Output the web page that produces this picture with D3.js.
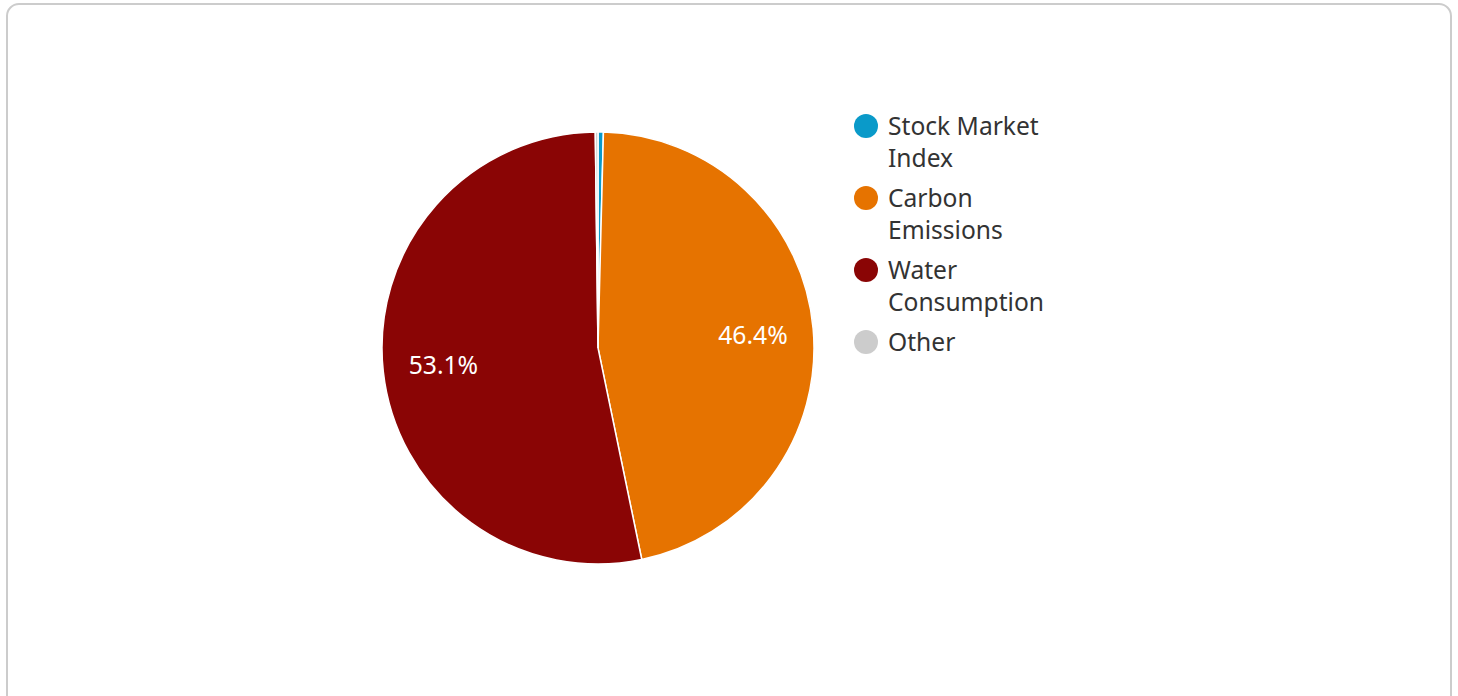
<!DOCTYPE html>
<html>
<head>
<meta charset="utf-8">
<script src="https://cdn.jsdelivr.net/npm/d3@7"></script>
<style>
  html, body { margin: 0; padding: 0; background: #fff; }
  #chart { width: 1458px; height: 696px; }
</style>
</head>
<body>
<div id="chart"></div>
<script>
// Slice data (percent of total), drawn clockwise from 12 o'clock
const categories = ["Stock Market Index", "Carbon Emissions", "Water Consumption", "Other"];
const legendLines = [["Stock Market", "Index"], ["Carbon", "Emissions"], ["Water", "Consumption"], ["Other"]];
const shares = [0.4, 46.4, 53.1, 0.2];
const colors = ["#0a9ac9", "#e67300", "#8a0505", "#cccccc"];

const W = 1458, H = 696;
const cx = 598, cy = 348, R = 216;
const FONT = "'Noto Sans', 'Open Sans', sans-serif";

const svg = d3.select("#chart").append("svg")
  .attr("width", W).attr("height", H)
  .style("font-family", FONT);

/* card border */
svg.append("rect")
  .attr("x", 7).attr("y", 4).attr("width", 1444).attr("height", 720)
  .attr("rx", 12).attr("ry", 12)
  .attr("fill", "#fff").attr("stroke", "#cccccc").attr("stroke-width", 2);

const data = categories.map((c, i) => ({ name: c, value: shares[i], color: colors[i] }));

const pie = d3.pie().value(d => d.value).sort(null);
const arc = d3.arc().innerRadius(0).outerRadius(R);
const labelArc = d3.arc().innerRadius(R * 0.72).outerRadius(R * 0.72);

const g = svg.append("g").attr("transform", `translate(${cx},${cy})`);
const arcs = pie(data);

g.selectAll("path").data(arcs).enter().append("path")
  .attr("d", arc)
  .attr("fill", d => d.data.color)
  .attr("stroke", "#fff").attr("stroke-width", 1.5);

/* percent labels only on the big slices */
g.selectAll("text.pct").data(arcs.filter(d => d.data.value > 5)).enter().append("text")
  .attr("class", "pct")
  .attr("transform", d => `translate(${labelArc.centroid(d)})`)
  .attr("text-anchor", "middle").attr("dominant-baseline", "central")
  .style("font-size", "24.7px").style("fill", "#fff")
  .text(d => d.data.value.toFixed(1) + "%");

/* Legend */
const legend = svg.append("g").attr("transform", "translate(866,126)");
let yOff = 0;
data.forEach((d, i) => {
  const row = legend.append("g").attr("transform", `translate(0,${yOff})`);
  row.append("circle").attr("cx", 0).attr("cy", 0).attr("r", 12).attr("fill", d.color);
  const t = row.append("text").attr("x", 22).attr("y", -1)
    .attr("dominant-baseline", "central")
    .style("font-size", "24.6px").style("fill", "#333");
  legendLines[i].forEach((ln, j) => {
    t.append("tspan").attr("x", 22).attr("y", j * 32 - 1).text(ln);
  });
  yOff += legendLines[i].length * 32 + 8;
});
</script>
</body>
</html>
